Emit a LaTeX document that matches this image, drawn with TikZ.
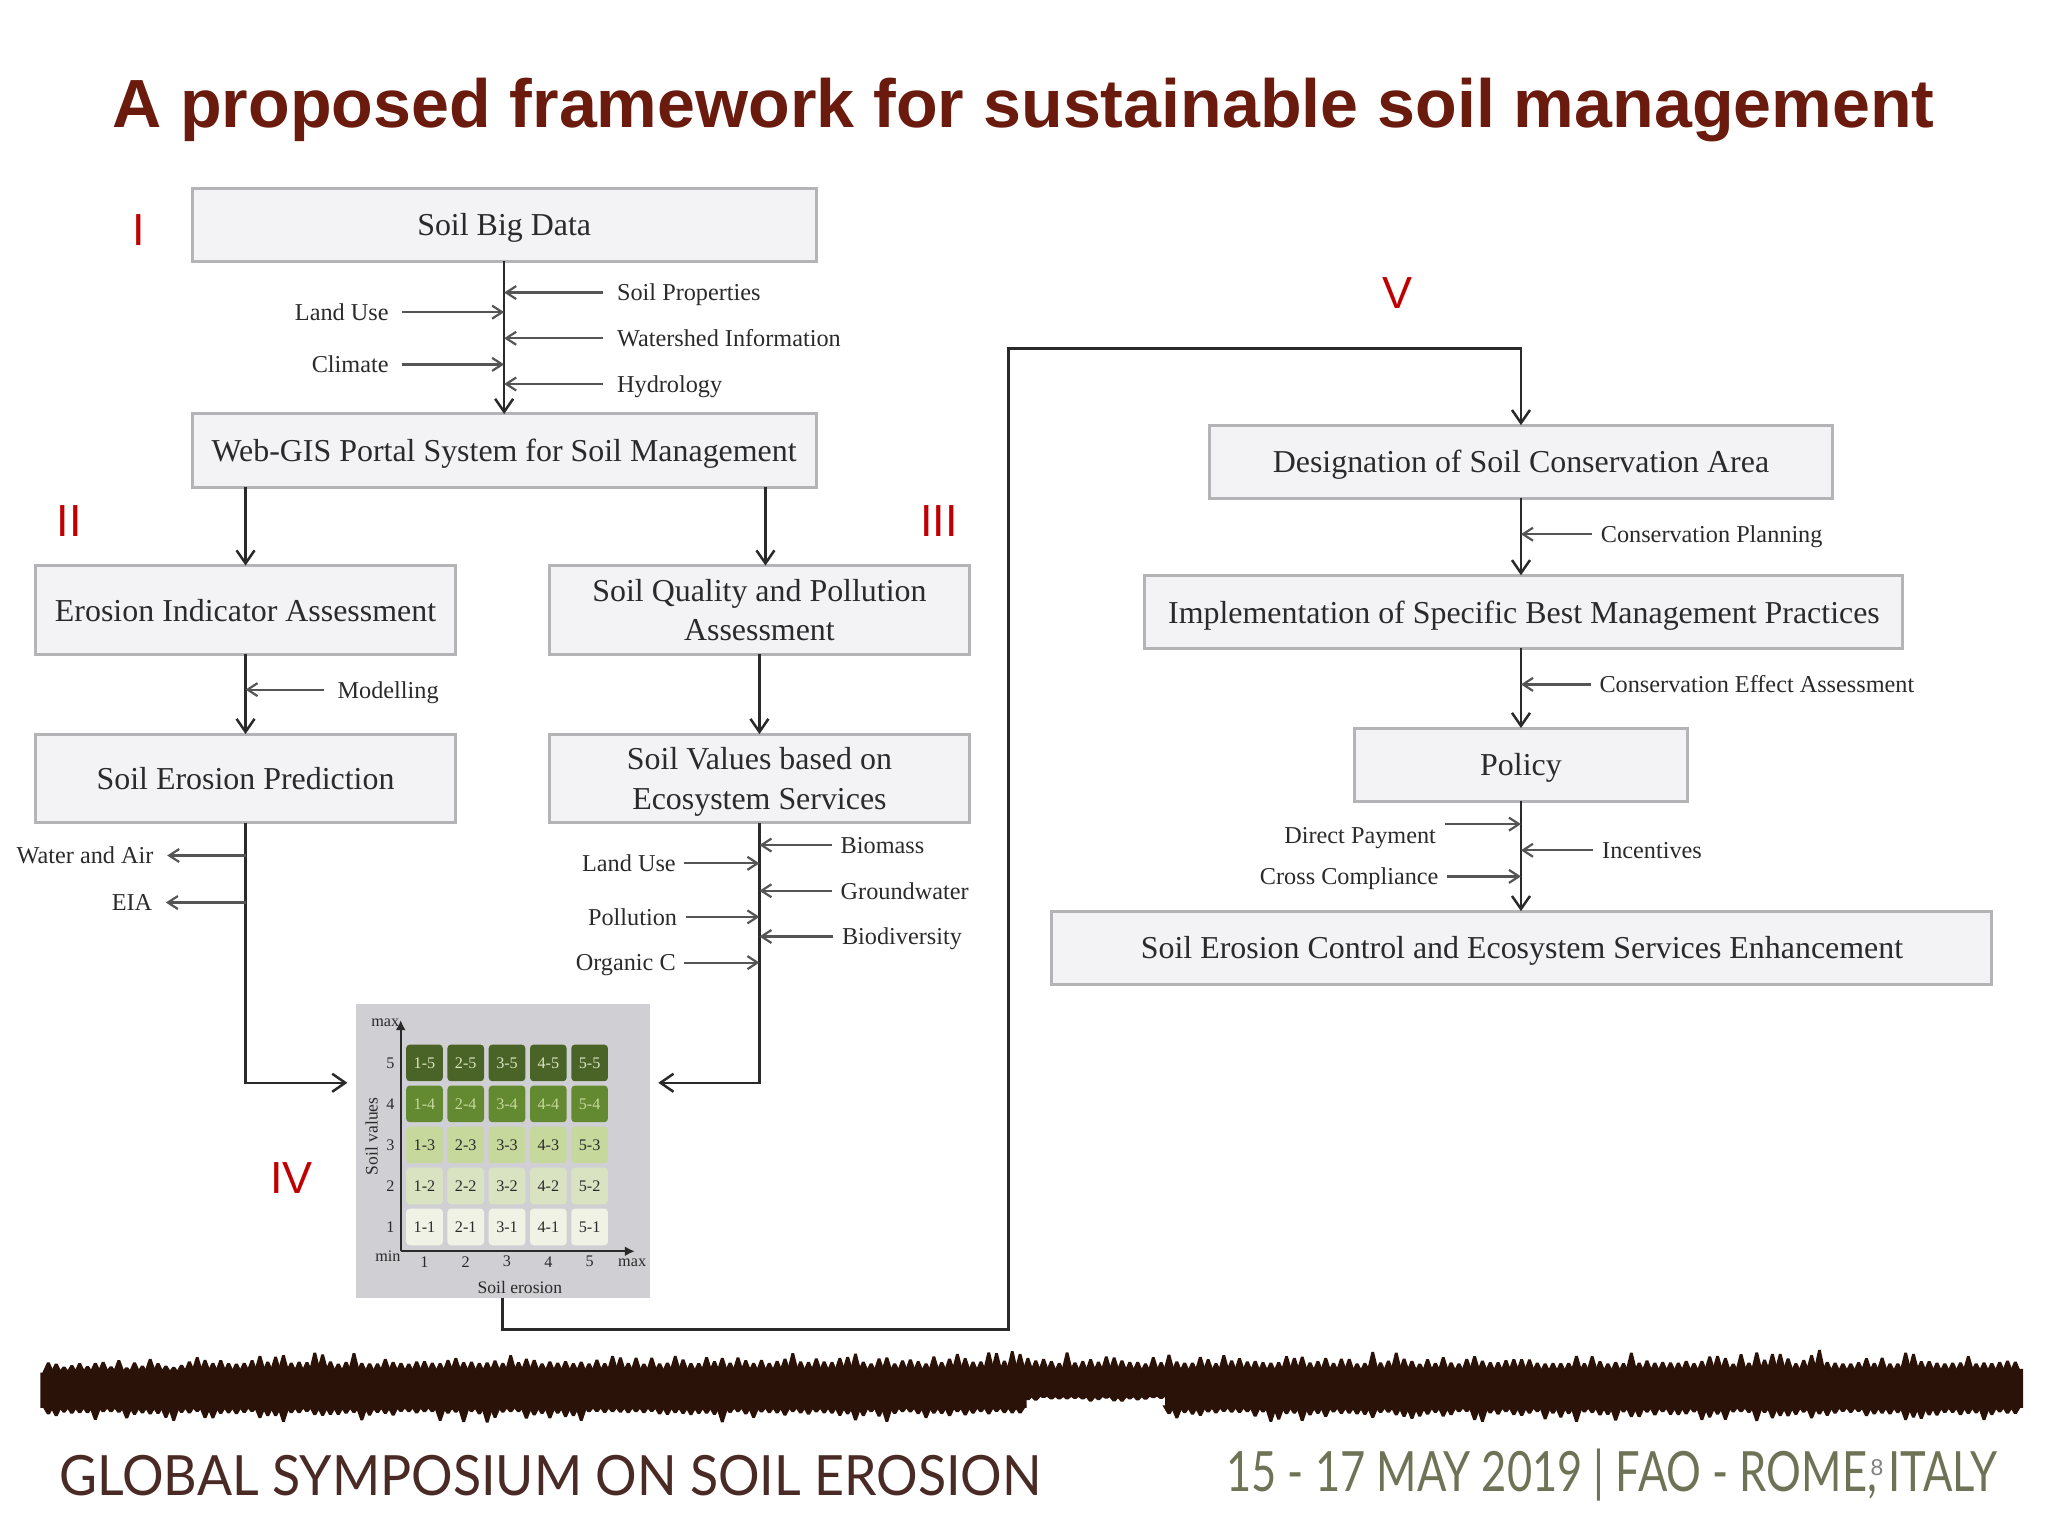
\documentclass[tikz,border=0pt]{standalone}
\usepackage{fontspec}
\setmainfont{Liberation Serif}
\newfontfamily\headfont{Liberation Sans}
\newfontfamily\footfont[FakeStretch=.935]{Lato}
\newfontfamily\datefont[FakeStretch=.783]{Lato}
\usetikzlibrary{arrows.meta,positioning}
\definecolor{titlered}{HTML}{6A1B0E}
\definecolor{numred}{HTML}{C00000}
\definecolor{boxfill}{HTML}{F3F3F5}
\definecolor{boxedge}{HTML}{B4B4B6}
\definecolor{inkgray}{HTML}{2A2A2A}
\definecolor{matgray}{HTML}{D0D0D4}
\definecolor{soil}{HTML}{2A1208}
\definecolor{footred}{HTML}{4A2A25}
\definecolor{footolive}{HTML}{6E7355}
\definecolor{rowa}{HTML}{F0F2E6}
\definecolor{rowb}{HTML}{D9E3C2}
\definecolor{rowc}{HTML}{C6D89C}
\definecolor{rowd}{HTML}{638A30}
\definecolor{rowe}{HTML}{4A6327}
\tikzset{
  box/.style    = {draw=boxedge, line width=.3mm, fill=boxfill, text=inkgray, minimum height=7.31mm, align=center, inner sep=0pt, outer sep=0pt, text depth=0pt, font=\fontsize{9.08}{11.2}\selectfont},
  tall/.style   = {minimum width=4.2cm, minimum height=8.88mm},
  side/.style   = {text=inkgray, inner sep=1.3mm, text depth=0pt, font=\fontsize{6.9}{8}\selectfont},
  near/.style   = {inner sep=.8mm},
  num/.style    = {text=numred, inner sep=0pt, font=\headfont\fontsize{12.8}{15}\selectfont},
  line/.style   = {-{Straight Barb[length=1.3mm,width=1.8mm]}, line width=.25mm, draw=inkgray},
  feed/.style   = {-{Straight Barb[length=1mm,width=1.3mm]}, line width=.22mm, draw=inkgray!80},
  cell/.style   = {rounded corners=1pt, minimum size=3.66mm, inner sep=0pt, font=\fontsize{4.6}{5}\selectfont},
  tick/.style   = {text=inkgray, inner sep=0pt, font=\fontsize{4.6}{5}\selectfont},
}

\begin{document}
\begin{tikzpicture}[x=0.01306cm,y=-0.01306cm]
    \useasboundingbox (0,0) rectangle (1568,1176);

    \node[inner sep=0pt,text=titlered,font=\headfont\bfseries\fontsize{19.4}{22}\selectfont] (title) at (783.5,84) {A proposed framework for sustainable soil management};

    \node[box,minimum width=6.24cm] (big) at (386,172) {Soil Big Data};
    \node[box,minimum width=6.24cm,below=15.28mm of big] (web) {Web-GIS Portal System for Soil Management};
    \node[box,tall] (eia) at (188,467) {Erosion Indicator Assessment};
    \node[box,tall,right=9.39mm of eia] (sqp) {Soil Quality and Pollution\\Assessment};
    \node[box,tall,below=7.97mm of eia] (sep) {Soil Erosion Prediction};
    \node[box,tall,below=7.97mm of sqp] (sve) {Soil Values based on\\Ecosystem Services};

    \node[box,minimum width=6.23cm] (dsc) at (1164.5,353.5) {Designation of Soil Conservation Area};
    \node[box,minimum width=7.58cm,below=7.7mm of dsc,xshift=.3mm] (imp) {Implementation of Specific Best Management Practices};
    \node[box,minimum width=3.33cm,below=7.97mm of imp,xshift=-.3mm] (pol) {Policy};
    \node[box,minimum width=9.4cm,below=11mm of pol,xshift=.1mm] (sec) {Soil Erosion Control and Ecosystem Services Enhancement};

    \node[num] (numa) at (106,176) {I};
    \node[num] (numb) at (53,399) {II};
    \node[num] (numc) at (719,399) {III};
    \node[num] (numd) at (223,902) {IV};
    \node[num] (nume) at (1070,224) {V};

    \node[side,anchor=west] (prop) at (462,224) {Soil Properties};
    \node[side,anchor=west] (shed) at (462,259) {Watershed Information};
    \node[side,anchor=west] (hydro) at (462,294) {Hydrology};
    \node[side,anchor=east] (landa) at (308,239) {Land Use};
    \node[side,anchor=east] (clim) at (308,279) {Climate};
    \node[side,anchor=west] (model) at (248,528) {Modelling};
    \node[side,anchor=east] (wair) at (128,655) {Water and Air};
    \node[side,anchor=east] (eiatxt) at (127,691) {EIA};
    \node[side,near,anchor=west] (biom) at (637,647) {Biomass};
    \node[side,near,anchor=west] (grnd) at (637,682) {Groundwater};
    \node[side,near,anchor=west] (biod) at (638,717) {Biodiversity};
    \node[side,near,anchor=east] (landb) at (524,661) {Land Use};
    \node[side,near,anchor=east] (poll) at (525,702) {Pollution};
    \node[side,near,anchor=east] (orgc) at (524,737) {Organic C};
    \node[side,near,anchor=west] (plan) at (1219,409) {Conservation Planning};
    \node[side,near,anchor=west] (effect) at (1218,524) {Conservation Effect Assessment};
    \node[side,near,anchor=west] (incent) at (1220,651) {Incentives};
    \node[side,near,anchor=east] (direct) at (1106,640) {Direct Payment};
    \node[side,near,anchor=east] (cross) at (1108,671) {Cross Compliance};

    \node[fill=matgray,minimum size=2.94cm,inner sep=0pt,outer sep=0pt] (mat) at (384.8,881) {};
    \foreach \row/\rowcol/\txtcol in {1/rowa/inkgray,2/rowb/inkgray,3/rowc/inkgray,4/rowd/rowc,5/rowe/rowb} {
      \foreach \col in {1,...,5} {
        \node[cell,fill=\rowcol,text=\txtcol] (c\col\row) at ({293.4+31.6*\col},{970.8-31.4*\row}) {\col-\row};
      }
      \node[tick] (ty\row) at (299,{970.8-31.4*\row}) {\row};
      \node[tick] (tx\row) at ({293.4+31.6*\row},966) {\row};
    }
    \coordinate (org) at (306.8,958);
    \coordinate (ytop) at (306.8,781);
    \coordinate (xend) at (486,958);
    \draw[-{Latex[length=1mm,width=1mm]},line width=.22mm,draw=inkgray] (org) -- (ytop);
    \draw[-{Latex[length=1mm,width=1mm]},line width=.22mm,draw=inkgray] (org) -- (xend);
    \node[tick] (ymax) at (295,783) {max};
    \node[tick] (xmin) at (297,962) {min};
    \node[tick] (xmax) at (484,967) {max};
    \node[tick,font=\fontsize{5}{6}\selectfont] (xname) at (398,986) {Soil erosion};
    \node[tick,font=\fontsize{5}{6}\selectfont,rotate=90] (yname) at (284.6,870) {Soil values};

    \coordinate (matl) at (266,829);
    \coordinate (matr) at (504,829);
    \coordinate (turna) at (772,1018);
    \coordinate (turnb) at (772,267);

    \draw[line] (big) -- (web);
    \draw[line] (eia |- web.south) -- (eia);
    \draw[line] ([xshift=.6mm]sqp.north |- web.south) -- ([xshift=.6mm]sqp.north);
    \draw[line] (eia) -- (sep);
    \draw[line] (sqp) -- (sve);
    \draw[line] (sep.south) |- (matl);
    \draw[line] (sve.south) |- (matr);
    \draw[line] (mat.south) |- (turna) -- (turnb) -| (dsc.north);
    \draw[line] (dsc) -- (imp.north -| dsc);
    \draw[line] (imp.south -| pol) -- (pol);
    \draw[line] (pol) -- (sec.north -| pol);

    \foreach \tag in {prop,shed,hydro,landa,clim} \draw[feed] (\tag) -- (\tag -| big);
    \draw[feed] (model) -- (model -| eia);
    \foreach \tag in {wair,eiatxt} \draw[feed] (\tag -| sep) -- (\tag);
    \foreach \tag in {biom,grnd,biod,landb,poll,orgc} \draw[feed] (\tag) -- (\tag -| sve);
    \draw[feed] (plan) -- (plan -| dsc);
    \draw[feed] (effect) -- (effect -| pol);
    \draw[feed] (incent) -- (incent -| pol);
    \draw[feed] ([yshift=1.18mm]direct.east) -- ([yshift=1.18mm]direct.east -| pol);
    \draw[feed] (cross) -- (cross -| pol);

    \pgfmathsetseed{8}
    \fill[soil] (31,1051) -- (140,1051) -- (140,1048) -- (1549,1048) -- (1549,1078) -- (892,1078) -- (892,1069) -- (786,1069) -- (786,1078) -- (31,1078) -- cycle;
    \foreach \k in {1,...,252} {
      \pgfmathsetmacro{\xk}{31+6*\k}
      \pgfmathsetmacro{\topk}{(\xk>140?1044:1047)-11*rnd*rnd}
      \fill[soil] ({\xk-5},1052) -- ({\xk-1},\topk) -- ({\xk+1},\topk) -- ({\xk+5},1052) -- cycle;
    }
    \foreach \k in {1,...,252} {
      \pgfmathsetmacro{\xk}{31+6*\k}
      \pgfmathsetmacro{\basek}{(\xk>786&&\xk<892)?1068:1076}
      \pgfmathsetmacro{\botk}{(\xk>786&&\xk<892)?1070+4*rnd:1081+9*rnd*rnd}
      \fill[soil] ({\xk-5},\basek) -- ({\xk-1},\botk) -- ({\xk+1},\botk) -- ({\xk+5},\basek) -- cycle;
    }

    \node[inner sep=0pt,anchor=west,text=footred,font=\footfont\fontsize{15.8}{18}\selectfont] (symp) at (45,1130) {GLOBAL SYMPOSIUM ON SOIL EROSION};
    \node[inner sep=0pt,anchor=east,text=footolive,font=\datefont\fontsize{15.8}{18}\selectfont] (date) at (1530,1129) {15 - 17 MAY 2019 | FAO - ROME, ITALY};
    \node[inner sep=0pt,text=gray,font=\headfont\fontsize{6.5}{8}\selectfont] (page) at (1437,1124) {8};
\end{tikzpicture}
\end{document}
